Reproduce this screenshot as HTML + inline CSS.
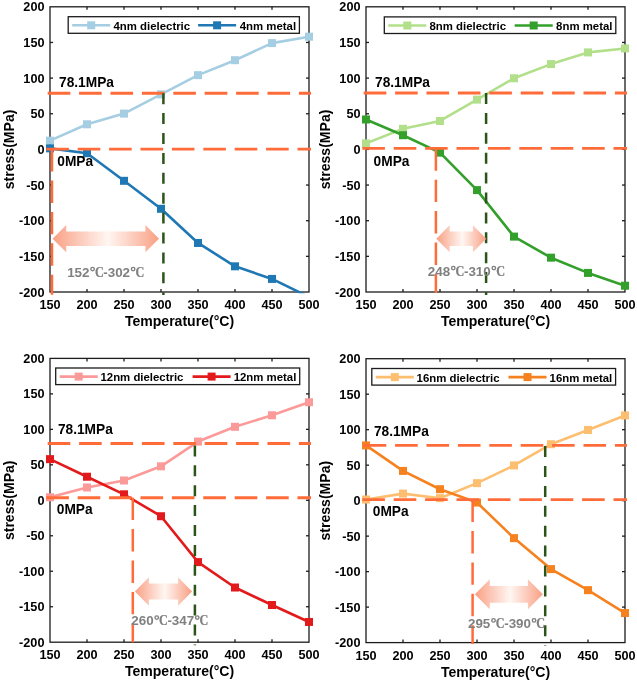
<!DOCTYPE html>
<html><head><meta charset="utf-8"><style>
html,body{margin:0;padding:0;background:#fff;width:637px;height:681px;overflow:hidden}
svg{display:block;will-change:transform}
text{font-family:"Liberation Sans", sans-serif;font-weight:bold;fill:#000}
.t{font-size:12.7px}
.l{font-size:14.05px}
.a{font-size:13.72px}
.g{font-size:11.4px}
.r{font-size:13.4px;fill:#808080}
.dc{font-family:"Liberation Serif", serif;font-weight:bold;fill:#808080}
</style></head><body>
<svg width="637" height="681" viewBox="0 0 637 681">
<defs>
<linearGradient id="ag" x1="0" x2="1" y1="0" y2="0">
<stop offset="0" stop-color="#F9A084"/>
<stop offset="0.52" stop-color="#FFF6F2"/>
<stop offset="1" stop-color="#F9A084"/>
</linearGradient>
</defs>
<rect width="637" height="681" fill="#fff"/>
<g>
<clipPath id="c0"><rect x="49" y="5.8" width="261" height="287.4"/></clipPath>
<rect x="50" y="6.8" width="259" height="285.2" fill="none" stroke="#1c1c1c" stroke-width="1.3"/>
<line x1="87.0" y1="292.0" x2="87.0" y2="289.0" stroke="#1c1c1c" stroke-width="1.3"/>
<line x1="87.0" y1="6.8" x2="87.0" y2="9.8" stroke="#1c1c1c" stroke-width="1.3"/>
<line x1="124.0" y1="292.0" x2="124.0" y2="289.0" stroke="#1c1c1c" stroke-width="1.3"/>
<line x1="124.0" y1="6.8" x2="124.0" y2="9.8" stroke="#1c1c1c" stroke-width="1.3"/>
<line x1="161.0" y1="292.0" x2="161.0" y2="289.0" stroke="#1c1c1c" stroke-width="1.3"/>
<line x1="161.0" y1="6.8" x2="161.0" y2="9.8" stroke="#1c1c1c" stroke-width="1.3"/>
<line x1="198.0" y1="292.0" x2="198.0" y2="289.0" stroke="#1c1c1c" stroke-width="1.3"/>
<line x1="198.0" y1="6.8" x2="198.0" y2="9.8" stroke="#1c1c1c" stroke-width="1.3"/>
<line x1="235.0" y1="292.0" x2="235.0" y2="289.0" stroke="#1c1c1c" stroke-width="1.3"/>
<line x1="235.0" y1="6.8" x2="235.0" y2="9.8" stroke="#1c1c1c" stroke-width="1.3"/>
<line x1="272.0" y1="292.0" x2="272.0" y2="289.0" stroke="#1c1c1c" stroke-width="1.3"/>
<line x1="272.0" y1="6.8" x2="272.0" y2="9.8" stroke="#1c1c1c" stroke-width="1.3"/>
<line x1="50" y1="42.45" x2="53" y2="42.45" stroke="#1c1c1c" stroke-width="1.3"/>
<line x1="309" y1="42.45" x2="306" y2="42.45" stroke="#1c1c1c" stroke-width="1.3"/>
<line x1="50" y1="78.10" x2="53" y2="78.10" stroke="#1c1c1c" stroke-width="1.3"/>
<line x1="309" y1="78.10" x2="306" y2="78.10" stroke="#1c1c1c" stroke-width="1.3"/>
<line x1="50" y1="113.75" x2="53" y2="113.75" stroke="#1c1c1c" stroke-width="1.3"/>
<line x1="309" y1="113.75" x2="306" y2="113.75" stroke="#1c1c1c" stroke-width="1.3"/>
<line x1="50" y1="149.40" x2="53" y2="149.40" stroke="#1c1c1c" stroke-width="1.3"/>
<line x1="309" y1="149.40" x2="306" y2="149.40" stroke="#1c1c1c" stroke-width="1.3"/>
<line x1="50" y1="185.05" x2="53" y2="185.05" stroke="#1c1c1c" stroke-width="1.3"/>
<line x1="309" y1="185.05" x2="306" y2="185.05" stroke="#1c1c1c" stroke-width="1.3"/>
<line x1="50" y1="220.70" x2="53" y2="220.70" stroke="#1c1c1c" stroke-width="1.3"/>
<line x1="309" y1="220.70" x2="306" y2="220.70" stroke="#1c1c1c" stroke-width="1.3"/>
<line x1="50" y1="256.35" x2="53" y2="256.35" stroke="#1c1c1c" stroke-width="1.3"/>
<line x1="309" y1="256.35" x2="306" y2="256.35" stroke="#1c1c1c" stroke-width="1.3"/>
<g clip-path="url(#c0)"><polyline points="50.00,140.66 87.00,124.28 124.00,113.60 161.00,94.38 198.00,75.15 235.00,60.20 272.00,43.11 309.00,36.70" fill="none" stroke="#A6CEE3" stroke-width="2.6" stroke-linejoin="round"/></g>
<rect x="46.00" y="136.66" width="8" height="8" fill="#A6CEE3"/>
<rect x="83.00" y="120.28" width="8" height="8" fill="#A6CEE3"/>
<rect x="120.00" y="109.60" width="8" height="8" fill="#A6CEE3"/>
<rect x="157.00" y="90.38" width="8" height="8" fill="#A6CEE3"/>
<rect x="194.00" y="71.15" width="8" height="8" fill="#A6CEE3"/>
<rect x="231.00" y="56.20" width="8" height="8" fill="#A6CEE3"/>
<rect x="268.00" y="39.11" width="8" height="8" fill="#A6CEE3"/>
<rect x="305.00" y="32.70" width="8" height="8" fill="#A6CEE3"/>
<g clip-path="url(#c0)"><polyline points="50.00,148.35 87.00,153.19 124.00,180.81 161.00,208.79 198.00,242.97 235.00,266.32 272.00,278.93 309.00,296.94" fill="none" stroke="#1F78B4" stroke-width="2.6" stroke-linejoin="round"/></g>
<rect x="46.00" y="144.35" width="8" height="8" fill="#1F78B4"/>
<rect x="83.00" y="149.19" width="8" height="8" fill="#1F78B4"/>
<rect x="120.00" y="176.81" width="8" height="8" fill="#1F78B4"/>
<rect x="157.00" y="204.79" width="8" height="8" fill="#1F78B4"/>
<rect x="194.00" y="238.97" width="8" height="8" fill="#1F78B4"/>
<rect x="231.00" y="262.32" width="8" height="8" fill="#1F78B4"/>
<rect x="268.00" y="274.93" width="8" height="8" fill="#1F78B4"/>
<line x1="46.3" y1="93.2" x2="311" y2="93.2" stroke="#FF6C3A" stroke-width="2.85" stroke-dasharray="22.6 8.8" stroke-dashoffset="-1.4"/>
<line x1="46.3" y1="149.1" x2="311" y2="149.1" stroke="#FF6C3A" stroke-width="2.85" stroke-dasharray="22.6 8.8"/>
<line x1="52.0" y1="149.1" x2="52.0" y2="294.8" stroke="#FF6C3A" stroke-width="2.5" stroke-dasharray="22.4 9"/>
<line x1="163.4" y1="93.2" x2="163.4" y2="295.0" stroke="#2B5419" stroke-width="2.5" stroke-dasharray="11 8.9"/>
<text x="50.0" y="309.0" text-anchor="middle" class="t">150</text>
<text x="87.0" y="309.0" text-anchor="middle" class="t">200</text>
<text x="124.0" y="309.0" text-anchor="middle" class="t">250</text>
<text x="161.0" y="309.0" text-anchor="middle" class="t">300</text>
<text x="198.0" y="309.0" text-anchor="middle" class="t">350</text>
<text x="235.0" y="309.0" text-anchor="middle" class="t">400</text>
<text x="272.0" y="309.0" text-anchor="middle" class="t">450</text>
<text x="309.0" y="309.0" text-anchor="middle" class="t">500</text>
<text x="44.5" y="11.40" text-anchor="end" class="t">200</text>
<text x="44.5" y="47.05" text-anchor="end" class="t">150</text>
<text x="44.5" y="82.70" text-anchor="end" class="t">100</text>
<text x="44.5" y="118.35" text-anchor="end" class="t">50</text>
<text x="44.5" y="154.00" text-anchor="end" class="t">0</text>
<text x="44.5" y="189.65" text-anchor="end" class="t">-50</text>
<text x="44.5" y="225.30" text-anchor="end" class="t">-100</text>
<text x="44.5" y="260.95" text-anchor="end" class="t">-150</text>
<text x="44.5" y="296.60" text-anchor="end" class="t">-200</text>
<text x="179.5" y="325.9" text-anchor="middle" class="l">Temperature(°C)</text>
<text transform="translate(13.5,149.4) rotate(-90)" text-anchor="middle" class="l">stress(MPa)</text>
<text x="59.0" y="86.8" class="a">78.1MPa</text>
<text x="57.3" y="166.3" class="a">0MPa</text>
<path d="M52.6,238.7 L66.2,225.1 L66.2,231.39999999999998 L145.4,231.39999999999998 L145.4,225.1 L159.0,238.7 L145.4,252.29999999999998 L145.4,246.0 L66.2,246.0 L66.2,252.29999999999998 Z" fill="url(#ag)"/>
<text x="67.16" y="276.5" class="r">152</text>
<circle cx="92.58" cy="269.10" r="1.75" fill="none" stroke="#808080" stroke-width="1.4"/>
<text transform="translate(94.88,276.90) scale(0.79,1)" class="dc" style="font-size:15.5px" stroke="#808080" stroke-width="0.25">C</text>
<text x="103.25" y="276.5" class="r">-302</text>
<circle cx="133.14" cy="269.10" r="1.75" fill="none" stroke="#808080" stroke-width="1.4"/>
<text transform="translate(135.44,276.90) scale(0.79,1)" class="dc" style="font-size:15.5px" stroke="#808080" stroke-width="0.25">C</text>
<rect x="68.2" y="16.7" width="231.2" height="16.6" fill="#fff" stroke="#1c1c1c" stroke-width="1.3"/>
<line x1="72.2" y1="25.299999999999997" x2="110.2" y2="25.299999999999997" stroke="#A6CEE3" stroke-width="2.6"/>
<rect x="87.2" y="21.299999999999997" width="8" height="8" fill="#A6CEE3"/>
<text x="113.53" y="29.80" class="g">4nm dielectric</text>
<text x="239.72" y="29.80" class="g">4nm metal</text>
<line x1="198.09" y1="25.299999999999997" x2="236.09" y2="25.299999999999997" stroke="#1F78B4" stroke-width="2.6"/>
<rect x="213.09" y="21.299999999999997" width="8" height="8" fill="#1F78B4"/>
</g>
<g>
<clipPath id="c1"><rect x="365" y="5.8" width="261" height="287.4"/></clipPath>
<rect x="366" y="6.8" width="259" height="285.2" fill="none" stroke="#1c1c1c" stroke-width="1.3"/>
<line x1="403.0" y1="292.0" x2="403.0" y2="289.0" stroke="#1c1c1c" stroke-width="1.3"/>
<line x1="403.0" y1="6.8" x2="403.0" y2="9.8" stroke="#1c1c1c" stroke-width="1.3"/>
<line x1="440.0" y1="292.0" x2="440.0" y2="289.0" stroke="#1c1c1c" stroke-width="1.3"/>
<line x1="440.0" y1="6.8" x2="440.0" y2="9.8" stroke="#1c1c1c" stroke-width="1.3"/>
<line x1="477.0" y1="292.0" x2="477.0" y2="289.0" stroke="#1c1c1c" stroke-width="1.3"/>
<line x1="477.0" y1="6.8" x2="477.0" y2="9.8" stroke="#1c1c1c" stroke-width="1.3"/>
<line x1="514.0" y1="292.0" x2="514.0" y2="289.0" stroke="#1c1c1c" stroke-width="1.3"/>
<line x1="514.0" y1="6.8" x2="514.0" y2="9.8" stroke="#1c1c1c" stroke-width="1.3"/>
<line x1="551.0" y1="292.0" x2="551.0" y2="289.0" stroke="#1c1c1c" stroke-width="1.3"/>
<line x1="551.0" y1="6.8" x2="551.0" y2="9.8" stroke="#1c1c1c" stroke-width="1.3"/>
<line x1="588.0" y1="292.0" x2="588.0" y2="289.0" stroke="#1c1c1c" stroke-width="1.3"/>
<line x1="588.0" y1="6.8" x2="588.0" y2="9.8" stroke="#1c1c1c" stroke-width="1.3"/>
<line x1="366" y1="42.45" x2="369" y2="42.45" stroke="#1c1c1c" stroke-width="1.3"/>
<line x1="625" y1="42.45" x2="622" y2="42.45" stroke="#1c1c1c" stroke-width="1.3"/>
<line x1="366" y1="78.10" x2="369" y2="78.10" stroke="#1c1c1c" stroke-width="1.3"/>
<line x1="625" y1="78.10" x2="622" y2="78.10" stroke="#1c1c1c" stroke-width="1.3"/>
<line x1="366" y1="113.75" x2="369" y2="113.75" stroke="#1c1c1c" stroke-width="1.3"/>
<line x1="625" y1="113.75" x2="622" y2="113.75" stroke="#1c1c1c" stroke-width="1.3"/>
<line x1="366" y1="149.40" x2="369" y2="149.40" stroke="#1c1c1c" stroke-width="1.3"/>
<line x1="625" y1="149.40" x2="622" y2="149.40" stroke="#1c1c1c" stroke-width="1.3"/>
<line x1="366" y1="185.05" x2="369" y2="185.05" stroke="#1c1c1c" stroke-width="1.3"/>
<line x1="625" y1="185.05" x2="622" y2="185.05" stroke="#1c1c1c" stroke-width="1.3"/>
<line x1="366" y1="220.70" x2="369" y2="220.70" stroke="#1c1c1c" stroke-width="1.3"/>
<line x1="625" y1="220.70" x2="622" y2="220.70" stroke="#1c1c1c" stroke-width="1.3"/>
<line x1="366" y1="256.35" x2="369" y2="256.35" stroke="#1c1c1c" stroke-width="1.3"/>
<line x1="625" y1="256.35" x2="622" y2="256.35" stroke="#1c1c1c" stroke-width="1.3"/>
<g clip-path="url(#c1)"><polyline points="366.00,143.40 403.00,128.81 440.00,120.98 477.00,99.62 514.00,78.26 551.00,64.09 588.00,52.41 625.00,48.42" fill="none" stroke="#B2DF8A" stroke-width="2.6" stroke-linejoin="round"/></g>
<rect x="362.00" y="139.40" width="8" height="8" fill="#B2DF8A"/>
<rect x="399.00" y="124.81" width="8" height="8" fill="#B2DF8A"/>
<rect x="436.00" y="116.98" width="8" height="8" fill="#B2DF8A"/>
<rect x="473.00" y="95.62" width="8" height="8" fill="#B2DF8A"/>
<rect x="510.00" y="74.26" width="8" height="8" fill="#B2DF8A"/>
<rect x="547.00" y="60.09" width="8" height="8" fill="#B2DF8A"/>
<rect x="584.00" y="48.41" width="8" height="8" fill="#B2DF8A"/>
<rect x="621.00" y="44.42" width="8" height="8" fill="#B2DF8A"/>
<g clip-path="url(#c1)"><polyline points="366.00,119.48 403.00,135.22 440.00,152.66 477.00,190.11 514.00,236.60 551.00,257.68 588.00,272.92 625.00,285.73" fill="none" stroke="#33A02C" stroke-width="2.6" stroke-linejoin="round"/></g>
<rect x="362.00" y="115.48" width="8" height="8" fill="#33A02C"/>
<rect x="399.00" y="131.22" width="8" height="8" fill="#33A02C"/>
<rect x="436.00" y="148.66" width="8" height="8" fill="#33A02C"/>
<rect x="473.00" y="186.11" width="8" height="8" fill="#33A02C"/>
<rect x="510.00" y="232.60" width="8" height="8" fill="#33A02C"/>
<rect x="547.00" y="253.68" width="8" height="8" fill="#33A02C"/>
<rect x="584.00" y="268.92" width="8" height="8" fill="#33A02C"/>
<rect x="621.00" y="281.73" width="8" height="8" fill="#33A02C"/>
<line x1="362.3" y1="93.0" x2="627" y2="93.0" stroke="#FF6C3A" stroke-width="2.85" stroke-dasharray="22.6 8.8" stroke-dashoffset="-1.4"/>
<line x1="362.3" y1="148.3" x2="627" y2="148.3" stroke="#FF6C3A" stroke-width="2.85" stroke-dasharray="22.6 8.8"/>
<line x1="435.9" y1="148.3" x2="435.9" y2="293.0" stroke="#FF6C3A" stroke-width="2.5" stroke-dasharray="22.4 9"/>
<line x1="486.1" y1="93.0" x2="486.1" y2="295.0" stroke="#2B5419" stroke-width="2.5" stroke-dasharray="11 8.9"/>
<text x="366.0" y="309.0" text-anchor="middle" class="t">150</text>
<text x="403.0" y="309.0" text-anchor="middle" class="t">200</text>
<text x="440.0" y="309.0" text-anchor="middle" class="t">250</text>
<text x="477.0" y="309.0" text-anchor="middle" class="t">300</text>
<text x="514.0" y="309.0" text-anchor="middle" class="t">350</text>
<text x="551.0" y="309.0" text-anchor="middle" class="t">400</text>
<text x="588.0" y="309.0" text-anchor="middle" class="t">450</text>
<text x="625.0" y="309.0" text-anchor="middle" class="t">500</text>
<text x="360.5" y="11.40" text-anchor="end" class="t">200</text>
<text x="360.5" y="47.05" text-anchor="end" class="t">150</text>
<text x="360.5" y="82.70" text-anchor="end" class="t">100</text>
<text x="360.5" y="118.35" text-anchor="end" class="t">50</text>
<text x="360.5" y="154.00" text-anchor="end" class="t">0</text>
<text x="360.5" y="189.65" text-anchor="end" class="t">-50</text>
<text x="360.5" y="225.30" text-anchor="end" class="t">-100</text>
<text x="360.5" y="260.95" text-anchor="end" class="t">-150</text>
<text x="360.5" y="296.60" text-anchor="end" class="t">-200</text>
<text x="495.5" y="325.9" text-anchor="middle" class="l">Temperature(°C)</text>
<text transform="translate(329.5,149.4) rotate(-90)" text-anchor="middle" class="l">stress(MPa)</text>
<text x="375.0" y="86.8" class="a">78.1MPa</text>
<text x="373.6" y="166.45" class="a">0MPa</text>
<path d="M436.3,238.75 L449.7,225.35 L449.7,231.55 L472.90000000000003,231.55 L472.90000000000003,225.35 L486.3,238.75 L472.90000000000003,252.15 L472.90000000000003,245.95 L449.7,245.95 L449.7,252.15 Z" fill="url(#ag)"/>
<text x="427.74" y="275.5" class="r">248</text>
<circle cx="453.28" cy="268.10" r="1.75" fill="none" stroke="#808080" stroke-width="1.4"/>
<text transform="translate(455.58,275.90) scale(0.79,1)" class="dc" style="font-size:15.5px" stroke="#808080" stroke-width="0.25">C</text>
<text x="463.96" y="275.5" class="r">-310</text>
<circle cx="493.83" cy="268.10" r="1.75" fill="none" stroke="#808080" stroke-width="1.4"/>
<text transform="translate(496.13,275.90) scale(0.79,1)" class="dc" style="font-size:15.5px" stroke="#808080" stroke-width="0.25">C</text>
<rect x="384.3" y="16.9" width="231.49999999999994" height="16.6" fill="#fff" stroke="#1c1c1c" stroke-width="1.3"/>
<line x1="388.3" y1="25.5" x2="426.3" y2="25.5" stroke="#B2DF8A" stroke-width="2.6"/>
<rect x="403.3" y="21.5" width="8" height="8" fill="#B2DF8A"/>
<text x="429.44" y="30.00" class="g">8nm dielectric</text>
<text x="556.12" y="30.00" class="g">8nm metal</text>
<line x1="514.68" y1="25.5" x2="552.68" y2="25.5" stroke="#33A02C" stroke-width="2.6"/>
<rect x="529.68" y="21.5" width="8" height="8" fill="#33A02C"/>
</g>
<g>
<clipPath id="c2"><rect x="49" y="357.4" width="261" height="286.00000000000006"/></clipPath>
<rect x="50" y="358.4" width="259" height="283.80000000000007" fill="none" stroke="#1c1c1c" stroke-width="1.3"/>
<line x1="87.0" y1="642.2" x2="87.0" y2="639.2" stroke="#1c1c1c" stroke-width="1.3"/>
<line x1="87.0" y1="358.4" x2="87.0" y2="361.4" stroke="#1c1c1c" stroke-width="1.3"/>
<line x1="124.0" y1="642.2" x2="124.0" y2="639.2" stroke="#1c1c1c" stroke-width="1.3"/>
<line x1="124.0" y1="358.4" x2="124.0" y2="361.4" stroke="#1c1c1c" stroke-width="1.3"/>
<line x1="161.0" y1="642.2" x2="161.0" y2="639.2" stroke="#1c1c1c" stroke-width="1.3"/>
<line x1="161.0" y1="358.4" x2="161.0" y2="361.4" stroke="#1c1c1c" stroke-width="1.3"/>
<line x1="198.0" y1="642.2" x2="198.0" y2="639.2" stroke="#1c1c1c" stroke-width="1.3"/>
<line x1="198.0" y1="358.4" x2="198.0" y2="361.4" stroke="#1c1c1c" stroke-width="1.3"/>
<line x1="235.0" y1="642.2" x2="235.0" y2="639.2" stroke="#1c1c1c" stroke-width="1.3"/>
<line x1="235.0" y1="358.4" x2="235.0" y2="361.4" stroke="#1c1c1c" stroke-width="1.3"/>
<line x1="272.0" y1="642.2" x2="272.0" y2="639.2" stroke="#1c1c1c" stroke-width="1.3"/>
<line x1="272.0" y1="358.4" x2="272.0" y2="361.4" stroke="#1c1c1c" stroke-width="1.3"/>
<line x1="50" y1="393.88" x2="53" y2="393.88" stroke="#1c1c1c" stroke-width="1.3"/>
<line x1="309" y1="393.88" x2="306" y2="393.88" stroke="#1c1c1c" stroke-width="1.3"/>
<line x1="50" y1="429.35" x2="53" y2="429.35" stroke="#1c1c1c" stroke-width="1.3"/>
<line x1="309" y1="429.35" x2="306" y2="429.35" stroke="#1c1c1c" stroke-width="1.3"/>
<line x1="50" y1="464.82" x2="53" y2="464.82" stroke="#1c1c1c" stroke-width="1.3"/>
<line x1="309" y1="464.82" x2="306" y2="464.82" stroke="#1c1c1c" stroke-width="1.3"/>
<line x1="50" y1="500.30" x2="53" y2="500.30" stroke="#1c1c1c" stroke-width="1.3"/>
<line x1="309" y1="500.30" x2="306" y2="500.30" stroke="#1c1c1c" stroke-width="1.3"/>
<line x1="50" y1="535.78" x2="53" y2="535.78" stroke="#1c1c1c" stroke-width="1.3"/>
<line x1="309" y1="535.78" x2="306" y2="535.78" stroke="#1c1c1c" stroke-width="1.3"/>
<line x1="50" y1="571.25" x2="53" y2="571.25" stroke="#1c1c1c" stroke-width="1.3"/>
<line x1="309" y1="571.25" x2="306" y2="571.25" stroke="#1c1c1c" stroke-width="1.3"/>
<line x1="50" y1="606.73" x2="53" y2="606.73" stroke="#1c1c1c" stroke-width="1.3"/>
<line x1="309" y1="606.73" x2="306" y2="606.73" stroke="#1c1c1c" stroke-width="1.3"/>
<g clip-path="url(#c2)"><polyline points="50.00,497.22 87.00,487.47 124.00,480.49 161.00,466.32 198.00,441.55 235.00,426.81 272.00,415.27 309.00,402.24" fill="none" stroke="#FB9A99" stroke-width="2.6" stroke-linejoin="round"/></g>
<rect x="46.00" y="493.22" width="8" height="8" fill="#FB9A99"/>
<rect x="83.00" y="483.47" width="8" height="8" fill="#FB9A99"/>
<rect x="120.00" y="476.49" width="8" height="8" fill="#FB9A99"/>
<rect x="157.00" y="462.32" width="8" height="8" fill="#FB9A99"/>
<rect x="194.00" y="437.55" width="8" height="8" fill="#FB9A99"/>
<rect x="231.00" y="422.81" width="8" height="8" fill="#FB9A99"/>
<rect x="268.00" y="411.27" width="8" height="8" fill="#FB9A99"/>
<rect x="305.00" y="398.24" width="8" height="8" fill="#FB9A99"/>
<g clip-path="url(#c2)"><polyline points="50.00,459.13 87.00,476.72 124.00,494.31 161.00,516.24 198.00,562.09 235.00,587.51 272.00,605.02 309.00,621.97" fill="none" stroke="#E31A1C" stroke-width="2.6" stroke-linejoin="round"/></g>
<rect x="46.00" y="455.13" width="8" height="8" fill="#E31A1C"/>
<rect x="83.00" y="472.72" width="8" height="8" fill="#E31A1C"/>
<rect x="120.00" y="490.31" width="8" height="8" fill="#E31A1C"/>
<rect x="157.00" y="512.24" width="8" height="8" fill="#E31A1C"/>
<rect x="194.00" y="558.09" width="8" height="8" fill="#E31A1C"/>
<rect x="231.00" y="583.51" width="8" height="8" fill="#E31A1C"/>
<rect x="268.00" y="601.02" width="8" height="8" fill="#E31A1C"/>
<rect x="305.00" y="617.97" width="8" height="8" fill="#E31A1C"/>
<line x1="46.3" y1="443.5" x2="311" y2="443.5" stroke="#FF6C3A" stroke-width="2.85" stroke-dasharray="22.6 8.8" stroke-dashoffset="-1.4"/>
<line x1="46.3" y1="497.7" x2="311" y2="497.7" stroke="#FF6C3A" stroke-width="2.85" stroke-dasharray="22.6 8.8"/>
<line x1="132.8" y1="497.7" x2="132.8" y2="642.2" stroke="#FF6C3A" stroke-width="2.5" stroke-dasharray="22.4 9"/>
<line x1="194.9" y1="445.4" x2="194.9" y2="645.2" stroke="#2B5419" stroke-width="2.5" stroke-dasharray="11 8.9"/>
<text x="50.0" y="659.2" text-anchor="middle" class="t">150</text>
<text x="87.0" y="659.2" text-anchor="middle" class="t">200</text>
<text x="124.0" y="659.2" text-anchor="middle" class="t">250</text>
<text x="161.0" y="659.2" text-anchor="middle" class="t">300</text>
<text x="198.0" y="659.2" text-anchor="middle" class="t">350</text>
<text x="235.0" y="659.2" text-anchor="middle" class="t">400</text>
<text x="272.0" y="659.2" text-anchor="middle" class="t">450</text>
<text x="309.0" y="659.2" text-anchor="middle" class="t">500</text>
<text x="44.5" y="363.00" text-anchor="end" class="t">200</text>
<text x="44.5" y="398.48" text-anchor="end" class="t">150</text>
<text x="44.5" y="433.95" text-anchor="end" class="t">100</text>
<text x="44.5" y="469.43" text-anchor="end" class="t">50</text>
<text x="44.5" y="504.90" text-anchor="end" class="t">0</text>
<text x="44.5" y="540.38" text-anchor="end" class="t">-50</text>
<text x="44.5" y="575.85" text-anchor="end" class="t">-100</text>
<text x="44.5" y="611.33" text-anchor="end" class="t">-150</text>
<text x="44.5" y="646.80" text-anchor="end" class="t">-200</text>
<text x="179.5" y="676.1" text-anchor="middle" class="l">Temperature(°C)</text>
<text transform="translate(13.5,500.3) rotate(-90)" text-anchor="middle" class="l">stress(MPa)</text>
<text x="57.9" y="434.2" class="a">78.1MPa</text>
<text x="56.8" y="513.95" class="a">0MPa</text>
<path d="M134.9,591.5 L148.9,577.3 L148.9,583.6 L178.1,583.6 L178.1,577.3 L192.1,591.5 L178.1,605.7 L178.1,599.4 L148.9,599.4 L148.9,605.7 Z" fill="url(#ag)"/>
<text x="131.34" y="625.0" class="r">260</text>
<circle cx="156.74" cy="617.60" r="1.75" fill="none" stroke="#808080" stroke-width="1.4"/>
<text transform="translate(159.05,625.40) scale(0.79,1)" class="dc" style="font-size:15.5px" stroke="#808080" stroke-width="0.25">C</text>
<text x="167.42" y="625.0" class="r">-347</text>
<circle cx="197.25" cy="617.60" r="1.75" fill="none" stroke="#808080" stroke-width="1.4"/>
<text transform="translate(199.55,625.40) scale(0.79,1)" class="dc" style="font-size:15.5px" stroke="#808080" stroke-width="0.25">C</text>
<rect x="55.7" y="368.0" width="244.0" height="16.6" fill="#fff" stroke="#1c1c1c" stroke-width="1.3"/>
<line x1="59.7" y1="376.6" x2="97.7" y2="376.6" stroke="#FB9A99" stroke-width="2.6"/>
<rect x="74.7" y="372.6" width="8" height="8" fill="#FB9A99"/>
<text x="100.48" y="381.10" class="g">12nm dielectric</text>
<text x="233.68" y="381.10" class="g">12nm metal</text>
<line x1="192.60" y1="376.6" x2="230.60" y2="376.6" stroke="#E31A1C" stroke-width="2.6"/>
<rect x="207.60" y="372.6" width="8" height="8" fill="#E31A1C"/>
</g>
<g>
<clipPath id="c3"><rect x="365" y="357.7" width="261" height="286.1"/></clipPath>
<rect x="366" y="358.7" width="259" height="283.90000000000003" fill="none" stroke="#1c1c1c" stroke-width="1.3"/>
<line x1="403.0" y1="642.6" x2="403.0" y2="639.6" stroke="#1c1c1c" stroke-width="1.3"/>
<line x1="403.0" y1="358.7" x2="403.0" y2="361.7" stroke="#1c1c1c" stroke-width="1.3"/>
<line x1="440.0" y1="642.6" x2="440.0" y2="639.6" stroke="#1c1c1c" stroke-width="1.3"/>
<line x1="440.0" y1="358.7" x2="440.0" y2="361.7" stroke="#1c1c1c" stroke-width="1.3"/>
<line x1="477.0" y1="642.6" x2="477.0" y2="639.6" stroke="#1c1c1c" stroke-width="1.3"/>
<line x1="477.0" y1="358.7" x2="477.0" y2="361.7" stroke="#1c1c1c" stroke-width="1.3"/>
<line x1="514.0" y1="642.6" x2="514.0" y2="639.6" stroke="#1c1c1c" stroke-width="1.3"/>
<line x1="514.0" y1="358.7" x2="514.0" y2="361.7" stroke="#1c1c1c" stroke-width="1.3"/>
<line x1="551.0" y1="642.6" x2="551.0" y2="639.6" stroke="#1c1c1c" stroke-width="1.3"/>
<line x1="551.0" y1="358.7" x2="551.0" y2="361.7" stroke="#1c1c1c" stroke-width="1.3"/>
<line x1="588.0" y1="642.6" x2="588.0" y2="639.6" stroke="#1c1c1c" stroke-width="1.3"/>
<line x1="588.0" y1="358.7" x2="588.0" y2="361.7" stroke="#1c1c1c" stroke-width="1.3"/>
<line x1="366" y1="394.19" x2="369" y2="394.19" stroke="#1c1c1c" stroke-width="1.3"/>
<line x1="625" y1="394.19" x2="622" y2="394.19" stroke="#1c1c1c" stroke-width="1.3"/>
<line x1="366" y1="429.68" x2="369" y2="429.68" stroke="#1c1c1c" stroke-width="1.3"/>
<line x1="625" y1="429.68" x2="622" y2="429.68" stroke="#1c1c1c" stroke-width="1.3"/>
<line x1="366" y1="465.16" x2="369" y2="465.16" stroke="#1c1c1c" stroke-width="1.3"/>
<line x1="625" y1="465.16" x2="622" y2="465.16" stroke="#1c1c1c" stroke-width="1.3"/>
<line x1="366" y1="500.65" x2="369" y2="500.65" stroke="#1c1c1c" stroke-width="1.3"/>
<line x1="625" y1="500.65" x2="622" y2="500.65" stroke="#1c1c1c" stroke-width="1.3"/>
<line x1="366" y1="536.14" x2="369" y2="536.14" stroke="#1c1c1c" stroke-width="1.3"/>
<line x1="625" y1="536.14" x2="622" y2="536.14" stroke="#1c1c1c" stroke-width="1.3"/>
<line x1="366" y1="571.62" x2="369" y2="571.62" stroke="#1c1c1c" stroke-width="1.3"/>
<line x1="625" y1="571.62" x2="622" y2="571.62" stroke="#1c1c1c" stroke-width="1.3"/>
<line x1="366" y1="607.11" x2="369" y2="607.11" stroke="#1c1c1c" stroke-width="1.3"/>
<line x1="625" y1="607.11" x2="622" y2="607.11" stroke="#1c1c1c" stroke-width="1.3"/>
<g clip-path="url(#c3)"><polyline points="366.00,499.53 403.00,493.62 440.00,498.18 477.00,483.16 514.00,465.43 551.00,444.21 588.00,429.97 625.00,415.45" fill="none" stroke="#FDBF6F" stroke-width="2.6" stroke-linejoin="round"/></g>
<rect x="362.00" y="495.53" width="8" height="8" fill="#FDBF6F"/>
<rect x="399.00" y="489.62" width="8" height="8" fill="#FDBF6F"/>
<rect x="436.00" y="494.18" width="8" height="8" fill="#FDBF6F"/>
<rect x="473.00" y="479.16" width="8" height="8" fill="#FDBF6F"/>
<rect x="510.00" y="461.43" width="8" height="8" fill="#FDBF6F"/>
<rect x="547.00" y="440.21" width="8" height="8" fill="#FDBF6F"/>
<rect x="584.00" y="425.97" width="8" height="8" fill="#FDBF6F"/>
<rect x="621.00" y="411.45" width="8" height="8" fill="#FDBF6F"/>
<g clip-path="url(#c3)"><polyline points="366.00,445.42 403.00,470.91 440.00,489.21 477.00,502.52 514.00,538.12 551.00,569.10 588.00,590.17 625.00,613.03" fill="none" stroke="#F6821F" stroke-width="2.6" stroke-linejoin="round"/></g>
<rect x="362.00" y="441.42" width="8" height="8" fill="#F6821F"/>
<rect x="399.00" y="466.91" width="8" height="8" fill="#F6821F"/>
<rect x="436.00" y="485.21" width="8" height="8" fill="#F6821F"/>
<rect x="473.00" y="498.52" width="8" height="8" fill="#F6821F"/>
<rect x="510.00" y="534.12" width="8" height="8" fill="#F6821F"/>
<rect x="547.00" y="565.10" width="8" height="8" fill="#F6821F"/>
<rect x="584.00" y="586.17" width="8" height="8" fill="#F6821F"/>
<rect x="621.00" y="609.03" width="8" height="8" fill="#F6821F"/>
<line x1="362.3" y1="445.3" x2="627" y2="445.3" stroke="#FF6C3A" stroke-width="2.85" stroke-dasharray="22.6 8.8" stroke-dashoffset="-1.4"/>
<line x1="362.3" y1="499.6" x2="627" y2="499.6" stroke="#FF6C3A" stroke-width="2.85" stroke-dasharray="22.6 8.8"/>
<line x1="472.6" y1="499.6" x2="472.6" y2="644.1" stroke="#FF6C3A" stroke-width="2.5" stroke-dasharray="22.4 9"/>
<line x1="545.2" y1="446.1" x2="545.2" y2="645.6" stroke="#2B5419" stroke-width="2.5" stroke-dasharray="11 8.9"/>
<text x="366.0" y="659.6" text-anchor="middle" class="t">150</text>
<text x="403.0" y="659.6" text-anchor="middle" class="t">200</text>
<text x="440.0" y="659.6" text-anchor="middle" class="t">250</text>
<text x="477.0" y="659.6" text-anchor="middle" class="t">300</text>
<text x="514.0" y="659.6" text-anchor="middle" class="t">350</text>
<text x="551.0" y="659.6" text-anchor="middle" class="t">400</text>
<text x="588.0" y="659.6" text-anchor="middle" class="t">450</text>
<text x="625.0" y="659.6" text-anchor="middle" class="t">500</text>
<text x="360.5" y="363.30" text-anchor="end" class="t">200</text>
<text x="360.5" y="398.79" text-anchor="end" class="t">150</text>
<text x="360.5" y="434.28" text-anchor="end" class="t">100</text>
<text x="360.5" y="469.76" text-anchor="end" class="t">50</text>
<text x="360.5" y="505.25" text-anchor="end" class="t">0</text>
<text x="360.5" y="540.74" text-anchor="end" class="t">-50</text>
<text x="360.5" y="576.23" text-anchor="end" class="t">-100</text>
<text x="360.5" y="611.71" text-anchor="end" class="t">-150</text>
<text x="360.5" y="647.20" text-anchor="end" class="t">-200</text>
<text x="495.5" y="676.5" text-anchor="middle" class="l">Temperature(°C)</text>
<text transform="translate(329.5,500.65) rotate(-90)" text-anchor="middle" class="l">stress(MPa)</text>
<text x="373.9" y="435.85" class="a">78.1MPa</text>
<text x="372.8" y="515.6" class="a">0MPa</text>
<path d="M474.8,594.35 L489.8,579.35 L489.8,586.0500000000001 L527.9,586.0500000000001 L527.9,579.35 L542.9,594.35 L527.9,609.35 L527.9,602.65 L489.8,602.65 L489.8,609.35 Z" fill="url(#ag)"/>
<text x="467.94" y="627.8" class="r">295</text>
<circle cx="493.52" cy="620.40" r="1.75" fill="none" stroke="#808080" stroke-width="1.4"/>
<text transform="translate(495.82,628.20) scale(0.79,1)" class="dc" style="font-size:15.5px" stroke="#808080" stroke-width="0.25">C</text>
<text x="504.20" y="627.8" class="r">-390</text>
<circle cx="534.07" cy="620.40" r="1.75" fill="none" stroke="#808080" stroke-width="1.4"/>
<text transform="translate(536.37,628.20) scale(0.79,1)" class="dc" style="font-size:15.5px" stroke="#808080" stroke-width="0.25">C</text>
<rect x="371.8" y="368.5" width="243.8" height="16.6" fill="#fff" stroke="#1c1c1c" stroke-width="1.3"/>
<line x1="375.8" y1="377.1" x2="413.8" y2="377.1" stroke="#FDBF6F" stroke-width="2.6"/>
<rect x="390.8" y="373.1" width="8" height="8" fill="#FDBF6F"/>
<text x="416.58" y="381.60" class="g">16nm dielectric</text>
<text x="549.58" y="381.60" class="g">16nm metal</text>
<line x1="508.50" y1="377.1" x2="546.50" y2="377.1" stroke="#F6821F" stroke-width="2.6"/>
<rect x="523.50" y="373.1" width="8" height="8" fill="#F6821F"/>
</g>
</svg>
</body></html>
